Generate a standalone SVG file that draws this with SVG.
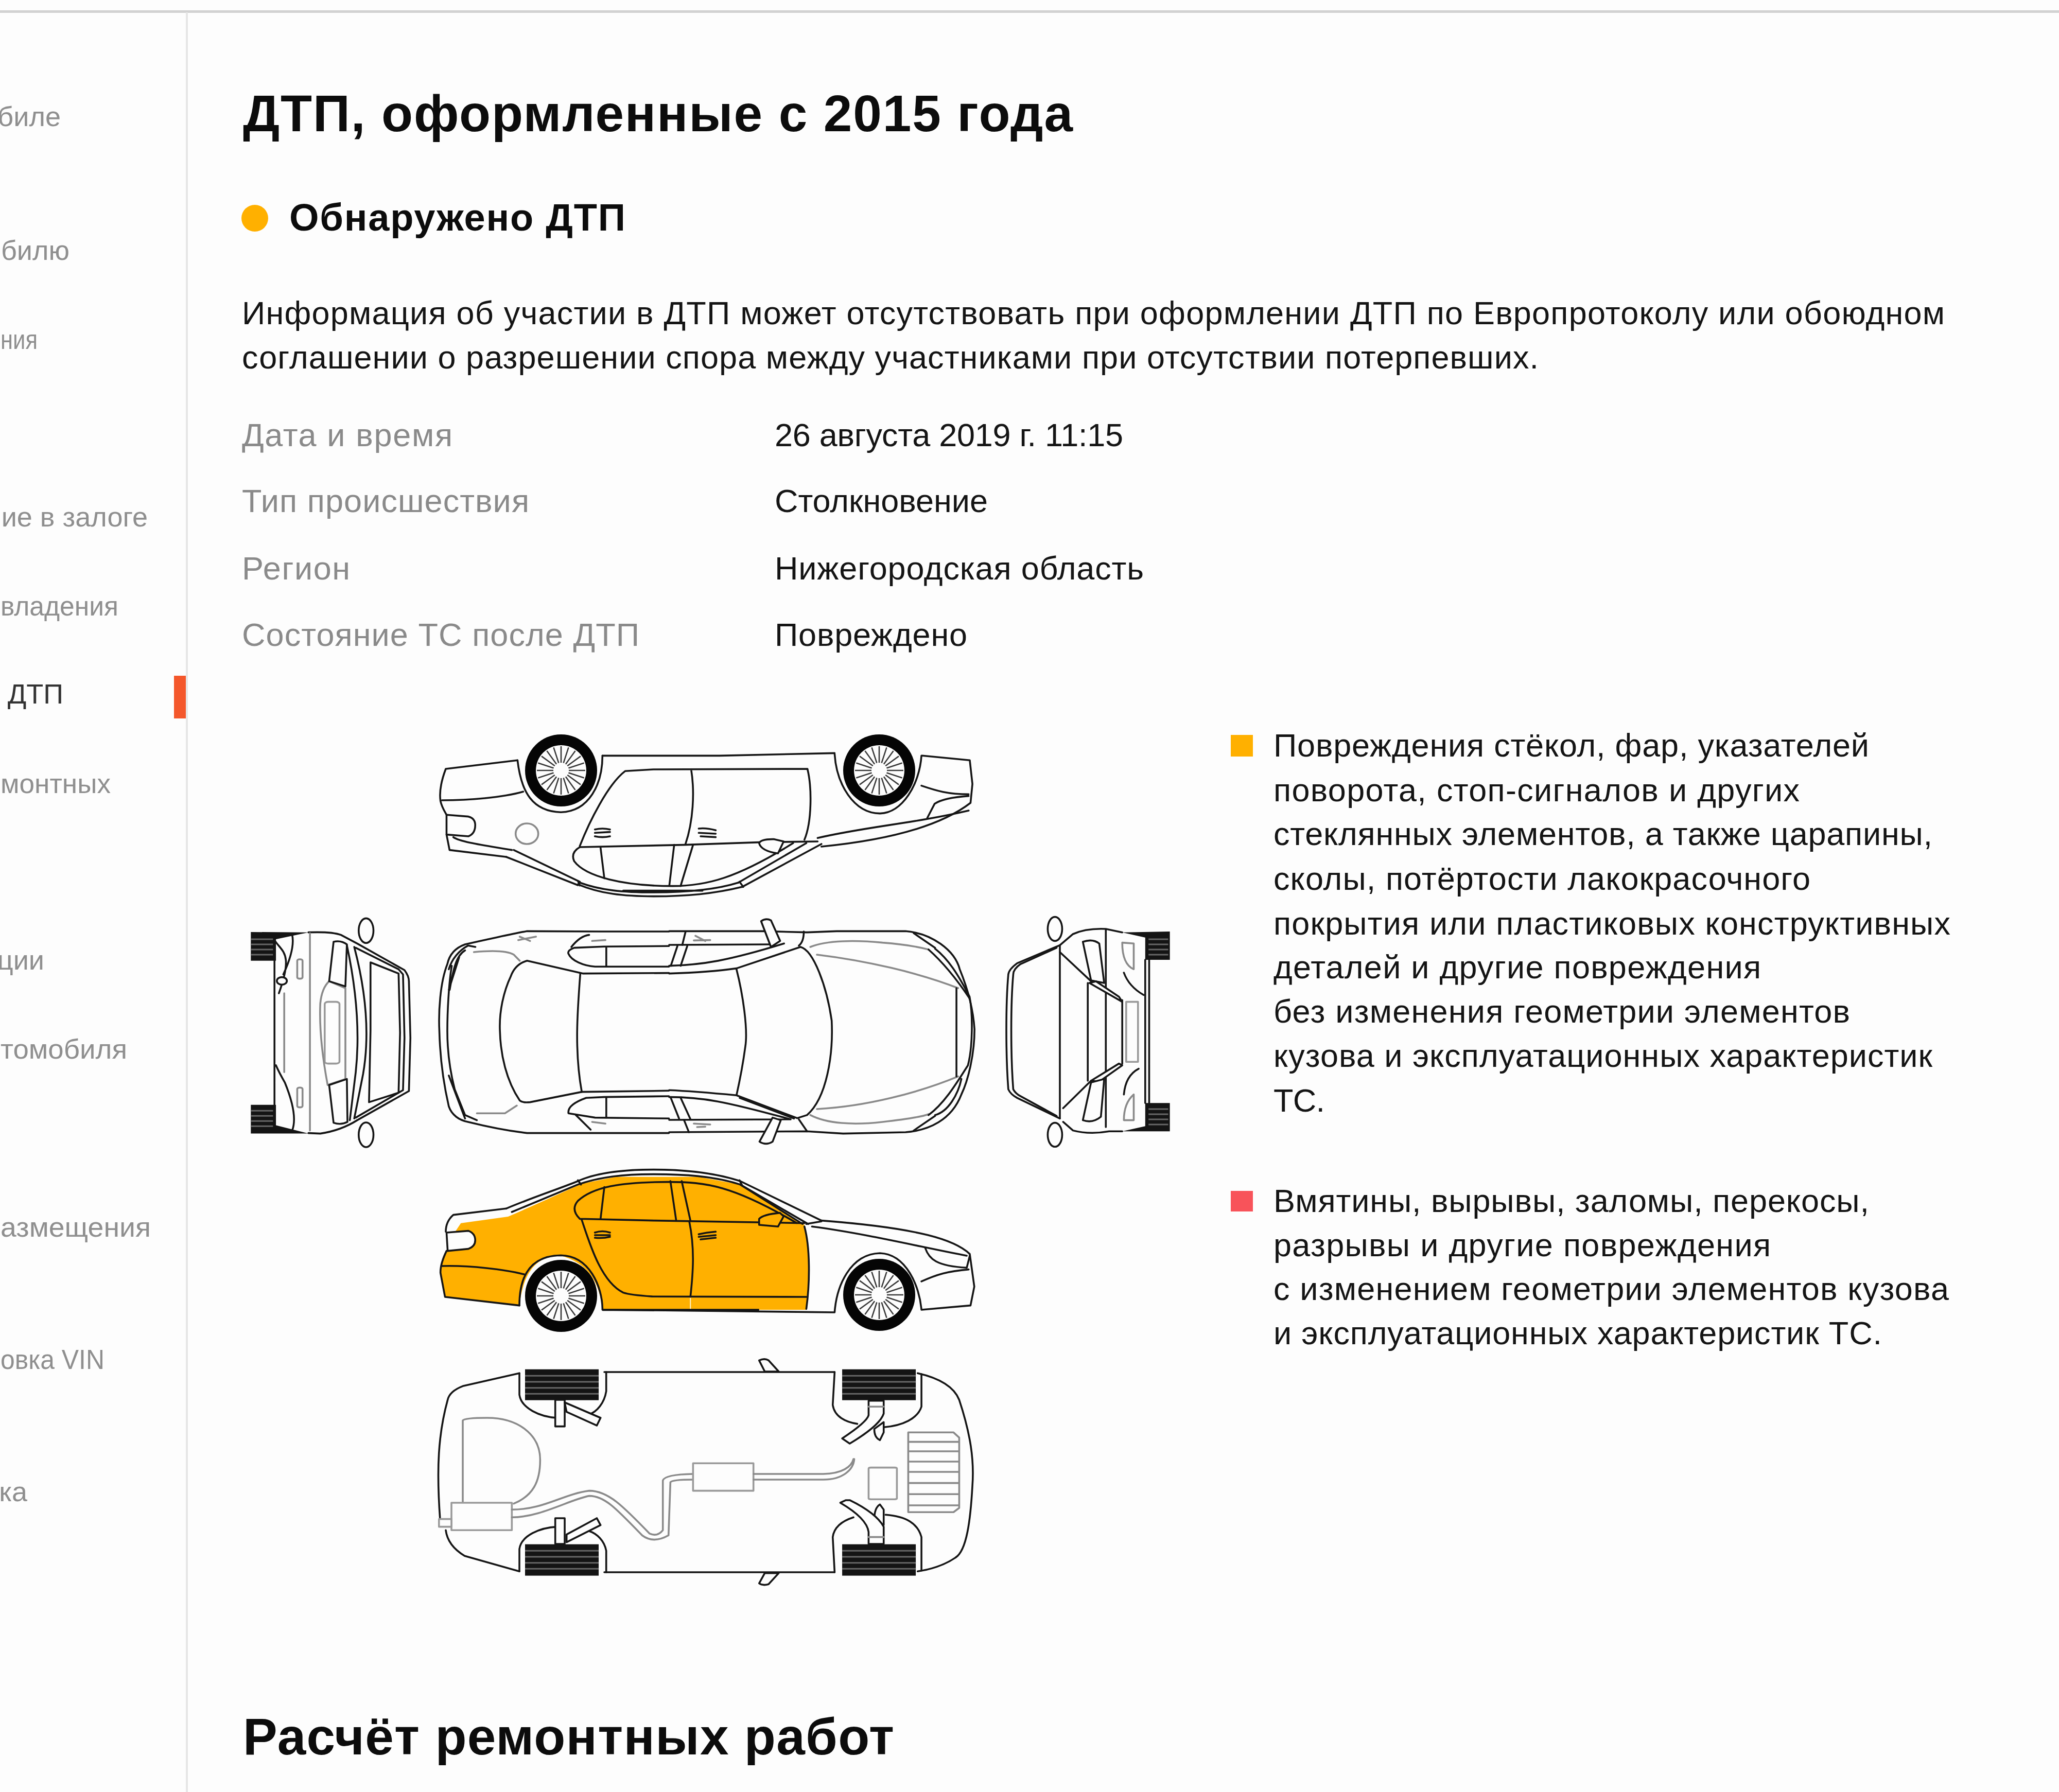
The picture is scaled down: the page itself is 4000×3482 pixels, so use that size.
<svg xmlns="http://www.w3.org/2000/svg" xmlns:xlink="http://www.w3.org/1999/xlink" width="4000" height="3482" viewBox="0 0 4000 3482">
<defs>
<style>
text{font-family:"Liberation Sans",Arial,sans-serif}
.h{font-size:100px;font-weight:700;fill:#0c0c0c}
.s{font-size:74px;font-weight:700;fill:#0c0c0c}
.t{font-size:63px;fill:#141414}
.g{font-size:63px;fill:#8a8a8a}
.n{font-size:54px;fill:#8f8f8f;text-anchor:end}
.c{font-size:54px;fill:#8f8f8f}
.l,.m,.f,.w{vector-effect:non-scaling-stroke;stroke-linejoin:round;stroke-linecap:round}
.l{fill:none;stroke:#151515;stroke-width:3.6}
.m{fill:none;stroke:#8a8a8a;stroke-width:3.6}
.f{fill:#fdfdfd;stroke:#151515;stroke-width:3.6}
.w{fill:#fdfdfd;stroke:#9a9a9a;stroke-width:3.6}
.o{fill:#ffb000;stroke:none}
.k{fill:#141414;stroke:none}
.st{fill:none;stroke:#666;stroke-width:3;vector-effect:non-scaling-stroke}
</style>
<g id="wheel">
<circle r="70" fill="#050505"/>
<circle r="49" fill="#fdfdfd"/>
<g stroke="#3a3a3a" stroke-width="2.6" fill="none">
<path d="M-47 0H-15M47 0H15M0-47V-15M0 47V15M-44.700-14.500L-14.300-4.600M44.700-14.500L14.300-4.600M-44.700 14.500L-14.300 4.600M44.700 14.500L14.300 4.600M-38-27.600L-12.100-8.800M38-27.600L12.100-8.800M-38 27.600L-12.100 8.800M38 27.600L12.100 8.800M-27.600-38L-8.800-12.100M27.600-38L8.800-12.100M-27.600 38L-8.800 12.100M27.600 38L8.800 12.100M-14.500-44.700L-4.600-14.300M14.500-44.700L4.600-14.300M-14.500 44.700L-4.600 14.300M14.500 44.700L4.600 14.300"/>
</g>
<circle r="15" fill="#fdfdfd"/>
</g>
</defs>
<rect width="4000" height="3482" fill="#fdfdfd"/>

<g id="page-frame">
<rect x="0" y="20" width="4000" height="5" fill="#d2d2d2"/>
<rect x="361" y="24" width="4" height="3458" fill="#e6e6e6"/>
<rect x="338" y="1313" width="23" height="83" fill="#f4572b"/>
</g>

<g id="sidebar">
<text class="n" x="118" y="245">биле</text>
<text class="n" x="135" y="505">билю</text>
<text class="c" x="1" y="678" textLength="72" lengthAdjust="spacingAndGlyphs">ния</text>
<text class="n" x="287" y="1023">ие в залоге</text>
<text class="c" x="1" y="1196" textLength="229" lengthAdjust="spacingAndGlyphs">владения</text>
<text class="n" x="123" y="1367" style="fill:#333">ДТП</text>
<text class="c" x="1" y="1541" textLength="214" lengthAdjust="spacingAndGlyphs">монтных</text>
<text class="n" x="86" y="1884">ции</text>
<text class="c" x="1" y="2057" textLength="246" lengthAdjust="spacingAndGlyphs">томобиля</text>
<text class="c" x="1" y="2403" textLength="292" lengthAdjust="spacingAndGlyphs">азмещения</text>
<text class="c" x="1" y="2660" textLength="202" lengthAdjust="spacingAndGlyphs">овка VIN</text>
<text class="n" x="53" y="2917">ка</text>
</g>

<g id="heading">
<text class="h" x="472" y="255" textLength="1612">ДТП, оформленные с 2015 года</text>
<circle cx="495" cy="424" r="26" fill="#ffb000"/>
<text class="s" x="562" y="448" textLength="653">Обнаружено ДТП</text>
<text class="t" x="470" y="630" textLength="3308">Информация об участии в ДТП может отсутствовать при оформлении ДТП по Европротоколу или обоюдном</text>
<text class="t" x="470" y="716" textLength="2519">соглашении о разрешении спора между участниками при отсутствии потерпевших.</text>
</g>

<g id="details">
<text class="g" x="470" y="867" textLength="409">Дата и время</text>
<text class="t" x="1505" y="867" textLength="677">26 августа 2019 г. 11:15</text>
<text class="g" x="470" y="995" textLength="558">Тип происшествия</text>
<text class="t" x="1505" y="995" textLength="414">Столкновение</text>
<text class="g" x="470" y="1126" textLength="210">Регион</text>
<text class="t" x="1505" y="1126" textLength="717">Нижегородская область</text>
<text class="g" x="470" y="1255" textLength="772">Состояние ТС после ДТП</text>
<text class="t" x="1505" y="1255" textLength="374">Повреждено</text>
</g>

<g id="car-roof-side" transform="translate(800,1390) scale(.7334,.3333)">
<path class="l" d="M280 262L90 312C80 370 72 440 76 500C80 540 90 570 92 580M92 695L100 785L250 825"/>
<path class="f" d="M92 580L150 590Q168 600 168 640Q168 690 150 705L92 695Z"/>
<path class="l" d="M80 495C150 495 240 480 295 445M110 710C130 740 200 760 265 785"/>
<path class="l" d="M250 825L440 990M270 785L445 970"/>
<path class="l" d="M440 985C500 1040 560 1055 640 1055C730 1055 800 1040 875 1000M445 975C500 1020 560 1032 640 1032C720 1032 800 1020 865 975M560 1022L770 1022"/>
<path class="l" d="M440 965L445 992M868 970L878 1000"/>
<path class="l" d="M875 1000L1085 750M865 975L1045 745"/>
<path class="l" d="M1085 765C1200 740 1380 680 1480 510L1485 400L1478 262L1352 235"/>
<path class="l" d="M1075 715C1200 650 1330 630 1475 555M1365 600L1385 515Q1410 480 1475 470M1350 410C1390 440 1420 460 1475 460"/>
<path class="l" d="M505 235L815 235L1120 220"/>
<path class="l" d="M280 262C290 450 320 560 395 565C470 560 505 400 505 235M1120 225C1125 400 1170 570 1240 572C1300 570 1345 400 1350 235"/>
<path class="l" d="M1048 312L640 315L565 325C520 400 470 620 445 762M1048 312C1060 420 1060 620 1040 725M740 315C750 450 745 620 725 750"/>
<path class="l" d="M445 768L720 755L920 740L1075 735"/>
<path class="l" d="M445 768Q420 800 430 850C460 940 560 995 690 995C780 995 860 950 1010 745M500 772L510 950M695 755L682 995M745 755L712 995"/>
<path class="f" d="M920 745Q925 720 960 722L985 735L970 805Q925 790 920 745Z"/>
<ellipse class="m" cx="305" cy="690" rx="30" ry="60"/>
<path class="l" d="M485 665Q505 655 525 665M485 685L525 680M485 705Q505 715 525 705M760 660Q780 655 805 670M760 685L805 690M765 705L805 710"/>
</g>
<use href="#wheel" x="1090" y="1497"/>
<use href="#wheel" x="1708" y="1497"/>

<g id="car-rear-view" transform="translate(450,1750) scale(.574,.3333)">
<path class="k" d="M65 183L260 185L150 225V350H65Z"/>
<path class="k" d="M65 1190H150V1310L260 1358H65Z"/>
<path class="st" d="M65 225H140M65 255H140M65 285H140M65 315H140M65 1225H140M65 1255H140M65 1285H140M65 1315H140"/>
<path class="l" d="M260 185Q340 180 370 200L425 250L585 405Q600 440 600 470L605 800L600 1110L425 1280Q370 1340 300 1358L260 1355"/>
<path class="l" d="M420 275L565 400L580 430L585 800L580 1105L420 1265"/>
<path class="l" d="M470 360L565 425L570 770L565 1120L465 1175L470 760Z"/>
<path class="l" d="M415 270C450 500 470 760 445 1010L415 1270M390 260C420 500 435 760 420 1000L400 1280"/>
<rect class="w" x="315" y="590" width="50" height="360" rx="12"/>
<path class="m" d="M330 470L385 510L385 1040L325 1075Q295 800 300 600Q305 510 330 470Z"/>
<path class="l" d="M345 240Q370 230 390 255L385 500L330 470ZM330 1075L390 1040L392 1290Q370 1310 345 1295Z"/>
<path class="m" d="M265 190V1340M178 540V1000"/>
<path class="l" d="M145 350V1190M145 230C170 300 210 300 160 540M205 200Q215 280 175 430M205 1340Q225 1250 180 1060C170 1030 160 1000 150 960"/>
<rect class="m" x="222" y="342" width="18" height="113" rx="8"/>
<rect class="m" x="222" y="1090" width="18" height="115" rx="8"/>
<ellipse class="f" cx="170" cy="468" rx="17" ry="22"/>
<ellipse class="f" cx="455" cy="175" rx="25" ry="72"/>
<ellipse class="f" cx="455" cy="1365" rx="25" ry="72"/>
</g>

<g id="car-top-view">
<g transform="translate(450,1750) scale(.574,.3333)">
<path class="l" d="M1480 180L1250 180L1000 178C960 190 840 235 790 255C750 280 735 330 730 370C705 480 700 650 703 760C705 900 715 1050 735 1200C745 1250 770 1280 800 1290C870 1320 950 1345 1000 1355L1250 1355L1480 1355"/>
<path class="l" d="M1480 265L1260 268L1160 275Q1135 290 1140 310C1150 350 1190 380 1230 385L1480 385"/>
<path class="l" d="M1480 422L1190 425L1000 350Q960 370 945 440C920 530 905 650 908 760C910 900 930 1050 975 1165Q985 1180 1010 1175L1185 1115L1480 1108"/>
<path class="l" d="M1180 425C1170 650 1160 880 1185 1115"/>
<path class="l" d="M1480 1140L1260 1145L1200 1150Q1135 1190 1140 1240L1230 1265L1480 1270"/>
<path class="l" d="M1268 275V380M1268 1150V1265M1150 270Q1180 205 1210 200M1165 1250L1215 1335"/>
<path class="m" d="M820 300C880 290 930 290 955 315L975 350M830 1240L925 1240L965 1195"/>
<path class="l" d="M745 380C735 480 730 650 730 760C730 880 740 1000 755 1100L790 1250L830 1280M790 290C760 320 750 400 738 520M825 270L800 262C770 290 745 340 735 400M770 330L735 520M735 1020L790 1270"/>
<path class="m" d="M970 230L1030 210M975 210L1010 235M1220 235L1265 230M1220 1290L1265 1300"/>
</g>
<g transform="translate(1300,1750) scale(.6378,.3333)">
<path class="l" d="M0 178L290 178L420 185L510 178L720 178C800 190 870 290 885 400C900 470 925 600 930 750C930 900 910 1050 890 1130C860 1280 790 1340 720 1350L530 1358L420 1345L0 1350"/>
<path class="l" d="M0 258L310 255M0 380C100 375 180 350 350 250"/>
<path class="l" d="M0 425C80 420 150 410 205 395L400 270C440 290 480 500 495 700C500 900 480 1150 420 1250L390 1268L205 1135C150 1125 60 1110 0 1105"/>
<path class="l" d="M205 400C225 550 240 750 232 850C225 950 215 1050 205 1135"/>
<path class="l" d="M0 1145C100 1145 170 1170 370 1275L0 1278M215 1150L380 1270"/>
<path class="l" d="M5 380L25 265M35 380L55 265M5 1150L30 1270M35 1150L65 1275M45 1278L60 1350M50 180L40 258"/>
<path class="m" d="M430 270C480 230 570 230 650 245C720 255 760 270 790 285M450 315C600 350 760 420 880 510M450 1215C600 1200 760 1120 880 1025M430 1250C480 1300 560 1310 650 1290C720 1275 770 1260 790 1245"/>
<path class="l" d="M875 510L875 1025M790 285C840 370 880 470 915 570M810 280C850 340 880 430 915 560C925 660 925 850 910 960C880 1050 840 1180 790 1250M810 1250C850 1230 880 1130 890 1040M745 190L810 275M745 1340L810 1255M410 180Q410 240 395 262M395 1275L420 1345"/>
<path class="m" d="M75 232L125 230M80 205L110 235M75 1300L125 1305M85 1320L110 1318"/>
<path class="f" d="M280 120Q295 100 310 115L338 235L310 270Z"/>
<path class="f" d="M275 1405Q295 1430 315 1405L340 1280L315 1265Z"/>
</g>
</g>

<g id="car-front-view" transform="translate(1300,1750) scale(.6378,.3333)">
<path class="k" d="M1380 185L1525 180V345H1450V215ZM1450 1180H1525V1345H1380L1450 1315Z"/>
<path class="st" d="M1460 225H1520M1460 255H1520M1460 285H1520M1460 315H1520M1460 1215H1520M1460 1245H1520M1460 1275H1520M1460 1305H1520"/>
<path class="l" d="M1190 260L1060 365Q1035 400 1033 430C1025 600 1025 900 1033 1100Q1040 1130 1060 1150L1190 1270"/>
<path class="l" d="M1180 275L1070 370Q1048 400 1048 430C1040 600 1040 900 1048 1100Q1055 1125 1070 1140L1180 1255"/>
<path class="l" d="M1190 260L1230 195Q1270 160 1330 165L1380 185M1200 1290L1230 1340Q1280 1365 1340 1345L1380 1345"/>
<path class="l" d="M1190 265V1270M1275 480V1050M1330 170V1320M1450 345V1180M1462 345V1180M1380 580V950"/>
<rect class="w" x="1392" y="590" width="36" height="350"/>
<path class="f" d="M1260 240Q1290 220 1310 250L1325 480L1285 465Z"/>
<path class="f" d="M1280 480L1300 470L1370 560L1380 590Z"/>
<path class="f" d="M1285 1050L1370 950L1380 960L1310 1055Z"/>
<path class="f" d="M1260 1280L1285 1060L1325 1040L1315 1260Q1290 1300 1260 1280Z"/>
<path class="m" d="M1380 245L1415 250L1415 400Q1380 370 1380 245M1385 1280L1415 1280L1415 1130Q1385 1180 1385 1280"/>
<path class="l" d="M1190 300L1285 470M1200 1210L1285 1050M1445 550Q1400 500 1385 420M1430 980Q1390 1020 1385 1130"/>
<ellipse class="f" cx="1175" cy="165" rx="22" ry="70"/>
<ellipse class="f" cx="1175" cy="1365" rx="22" ry="70"/>
</g>

<g id="car-side-damaged" transform="translate(800,2240) scale(.7334,.3333)">
<path class="o" d="M130 410L255 372C330 300 390 240 450 180L540 140L760 140L870 185L1040 420C1050 500 1055 700 1045 915L505 915C500 800 480 650 395 600C330 595 295 700 285 890L90 840L75 680C80 600 90 570 95 570L160 550L168 490L150 455L115 460Z"/>
<path class="l" d="M250 325C320 260 390 210 440 165C490 115 560 98 640 98C720 98 800 115 870 165L1085 395"/>
<path class="l" d="M265 345L440 185C500 140 560 125 640 125C720 125 800 135 870 185L1050 415"/>
<path class="l" d="M440 160L448 185M868 160L875 190M1045 415L1085 400"/>
<path class="l" d="M250 325L110 362Q90 400 90 460"/>
<path class="f" d="M92 465L150 455Q168 470 168 510Q168 545 150 560L95 572Z"/>
<path class="l" d="M92 572Q75 650 76 700L88 840L285 890M80 660C150 655 250 680 300 710"/>
<path class="l" d="M285 890C285 700 320 600 395 598C470 600 505 780 505 915L1120 930C1125 780 1160 590 1240 585C1310 590 1345 780 1350 915L1480 890L1490 780L1478 590C1440 510 1350 440 1085 395"/>
<path class="l" d="M1060 430C1200 470 1350 550 1470 600M1360 555C1370 620 1390 660 1470 670L1478 600M1350 750C1390 710 1420 690 1475 680"/>
<path class="l" d="M450 390C470 520 500 750 560 815C580 830 620 835 640 838L1045 840M735 400C750 560 745 700 738 840M1040 430C1055 550 1055 750 1045 910"/>
<path stroke="#fff2c8" stroke-width="2" fill="none" d="M738 845V912" style="vector-effect:non-scaling-stroke"/>
<path class="l" d="M445 385Q420 330 440 280C480 200 550 170 680 170C780 170 850 190 1020 410M445 385L640 395L1040 410"/>
<path class="l" d="M510 200L500 385M685 165L700 390M715 165L738 395M870 185L1035 415"/>
<path class="o" d="M920 420L920 385Q930 360 975 350L985 370L970 430Z"/>
<path class="l" d="M920 420L920 385Q930 360 975 350L985 370L970 430Z"/>
<path class="l" d="M485 465Q505 450 525 465M485 480L525 480M485 495Q505 500 525 490M760 475Q780 465 805 460M760 490L805 480M765 505L805 495"/>
<path class="k" d="M505 910H920V922H505Z"/>
</g>
<use href="#wheel" x="1090" y="2518"/>
<use href="#wheel" x="1708" y="2516"/>

<g id="car-underside" transform="translate(800,2620) scale(.7334,.3333)">
<path class="f" d="M920 70Q935 55 945 70L972 135L935 135Z"/>
<path class="f" d="M935 1310L972 1310L945 1375Q930 1385 920 1370Z"/>
<path class="l" d="M285 145L135 220Q100 250 95 300C70 500 65 700 75 1000M90 1060Q95 1150 140 1210L285 1300"/>
<path class="l" d="M1340 145Q1430 190 1450 300C1480 500 1490 650 1485 800C1480 1000 1470 1180 1440 1220Q1400 1280 1340 1300"/>
<path class="l" d="M510 138H1120M510 1305H1120"/>
<path class="l" d="M285 145L285 270C290 350 340 400 385 405M515 138L515 250C510 320 490 370 470 385M285 1300L285 1170C290 1090 340 1045 385 1040M515 1305L515 1180C510 1120 490 1080 470 1065"/>
<path class="l" d="M1120 138L1115 330C1120 400 1150 430 1180 440M1350 150L1350 340C1340 410 1300 450 1250 460M1120 1305L1115 1100Q1120 1020 1170 985M1350 1295L1350 1100C1340 1020 1310 980 1255 970"/>
<g id="underside-tyres">
<rect class="k" x="300" y="122" width="195" height="180"/>
<rect class="k" x="1140" y="122" width="195" height="180"/>
<rect class="k" x="300" y="1142" width="195" height="183"/>
<rect class="k" x="1140" y="1142" width="195" height="183"/>
<path class="st" d="M300 160H495M300 195H495M300 230H495M300 265H495M1140 160H1335M1140 195H1335M1140 230H1335M1140 265H1335M300 1180H495M300 1215H495M300 1250H495M300 1285H495M1140 1180H1335M1140 1215H1335M1140 1250H1335M1140 1285H1335"/>
</g>
<path class="f" d="M380 300H405V455H380ZM380 990H405V1140H380Z"/>
<path class="f" d="M405 315L500 405L490 450L410 370ZM410 1130L500 1030L490 990L410 1085Z"/>
<path class="f" d="M1210 305V390Q1205 430 1140 525L1160 555Q1240 450 1250 380V305Z"/>
<path class="f" d="M1225 470Q1225 520 1240 535L1250 490V430ZM1225 1000Q1225 930 1240 910L1250 940V1030Z"/>
<path class="f" d="M1150 885L1135 900Q1205 990 1210 1070V1140H1250V1040Q1230 960 1160 885Z"/>
<path class="m" d="M1210 340H1250M1210 1100H1250"/>
<path class="m" d="M135 900L135 420Q140 405 200 405C280 405 340 500 340 650C340 780 320 860 270 905"/>
<rect class="w" x="105" y="900" width="160" height="160"/>
<rect class="w" x="72" y="995" width="33" height="45"/>
<path class="m" d="M265 940C350 940 400 850 470 830C520 830 560 920 630 1080Q650 1100 665 1060L665 770Q670 735 745 732M265 985C340 985 420 880 470 860C510 860 540 930 610 1090Q640 1140 680 1090L685 780Q690 765 745 765"/>
<rect class="w" x="745" y="670" width="160" height="160"/>
<path class="m" d="M905 732L1090 732C1140 730 1165 690 1170 645M905 765L1090 765C1140 765 1170 710 1172 645"/>
<rect class="w" x="1210" y="695" width="75" height="185" rx="6"/>
<path class="m" d="M1315 490H1435L1450 520V930L1435 955H1315ZM1315 545H1450M1315 600H1450M1315 660H1450M1315 720H1450M1315 785H1450M1315 850H1450M1315 915H1450"/>
</g>

<g id="legend">
<rect x="2391" y="1428" width="43" height="42" fill="#ffb000"/>
<text class="t" x="2474" y="1470" textLength="1157">Повреждения стёкол, фар, указателей</text>
<text class="t" x="2474" y="1557" textLength="1022">поворота, стоп-сигналов и других</text>
<text class="t" x="2474" y="1642" textLength="1280">стеклянных элементов, а также царапины,</text>
<text class="t" x="2474" y="1729" textLength="1043">сколы, потёртости лакокрасочного</text>
<text class="t" x="2474" y="1816" textLength="1315">покрытия или пластиковых конструктивных</text>
<text class="t" x="2474" y="1901" textLength="947">деталей и другие повреждения</text>
<text class="t" x="2474" y="1987" textLength="1120">без изменения геометрии элементов</text>
<text class="t" x="2474" y="2073" textLength="1280">кузова и эксплуатационных характеристик</text>
<text class="t" x="2474" y="2160" textLength="100">ТС.</text>
<rect x="2391" y="2314" width="43" height="40" fill="#f8535a"/>
<text class="t" x="2474" y="2355" textLength="1157">Вмятины, вырывы, заломы, перекосы,</text>
<text class="t" x="2474" y="2441" textLength="966">разрывы и другие повреждения</text>
<text class="t" x="2474" y="2526" textLength="1312">с изменением геометрии элементов кузова</text>
<text class="t" x="2474" y="2612" textLength="1182">и эксплуатационных характеристик ТС.</text>
</g>

<g id="repair-heading">
<text class="h" x="472" y="3409" textLength="1265">Расчёт ремонтных работ</text>
</g>
</svg>
